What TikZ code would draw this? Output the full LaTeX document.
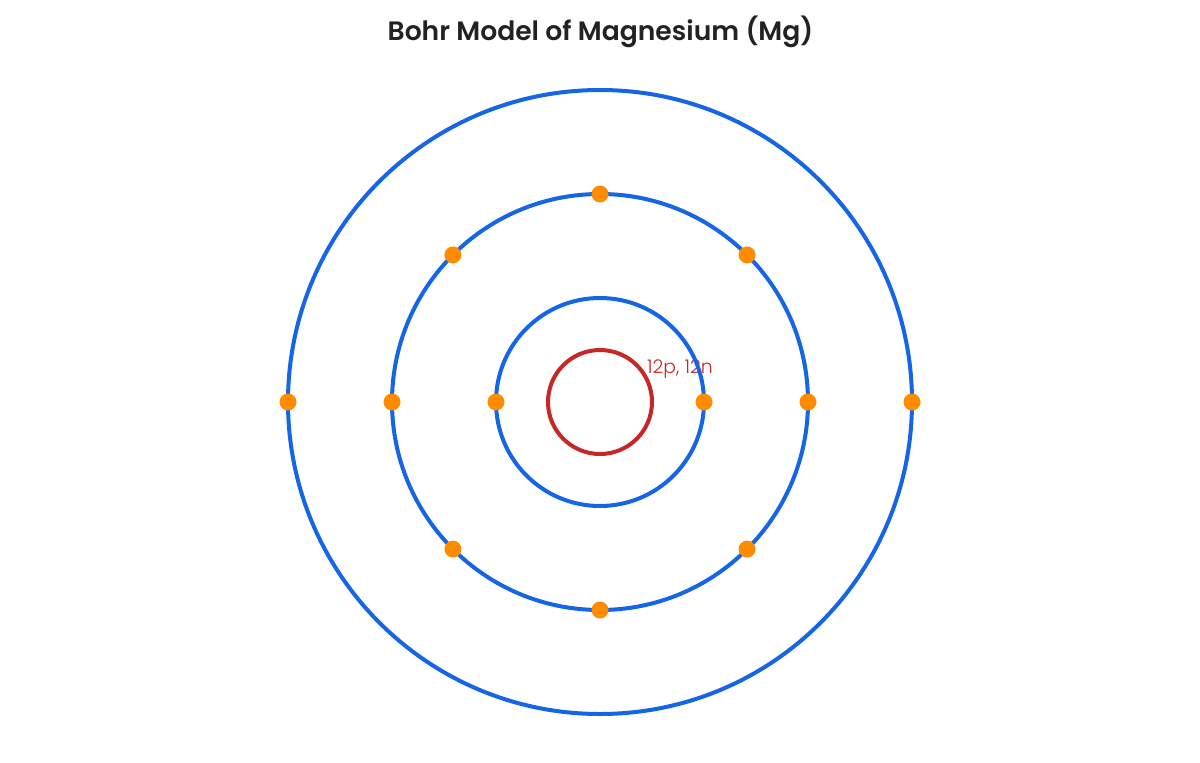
\documentclass[tikz,border=0pt]{standalone}
\usepackage{fontspec}
\setmainfont{Poppins}
\newfontfamily\titlefont{Poppins SemiBold}
\newfontfamily\labelfont{Poppins}[UprightFont={* Light}]
\usetikzlibrary{calc}
\begin{document}
\begin{tikzpicture}[x=1pt,y=-1pt,
  shell/.style={draw=shellblue,line width=4pt},
  nucleus/.style={draw=nucred,line width=4pt},
  electron/.style={circle,fill=elorange,inner sep=0pt,minimum size=17pt}]
\definecolor{shellblue}{HTML}{1565E6}
\definecolor{nucred}{HTML}{C62828}
\definecolor{elorange}{HTML}{FF8C00}
\definecolor{titlegray}{HTML}{222222}
\useasboundingbox (0,0) rectangle (1200,763);
\coordinate (c) at (600,402);
\node[anchor=center,text=titlegray,font=\fontsize{26.6}{30}\selectfont\titlefont] (title) at (600.5,32) {Bohr Model of Magnesium (Mg)};
\node[anchor=west,inner sep=0pt,text=nucred,font=\fontsize{18.8}{21}\selectfont\labelfont] (lab) at (647,369) {12p, 12n};
\draw[nucleus] (c) circle[radius=52];
\draw[shell] (c) circle[radius=104];
\draw[shell] (c) circle[radius=208];
\draw[shell] (c) circle[radius=312];
\foreach \a in {0,180} \node[electron] (ea\a) at ($(c)+(\a:104)$) {};
\foreach \a in {0,45,...,315} \node[electron] (eb\a) at ($(c)+(\a:208)$) {};
\foreach \a in {0,180} \node[electron] (ec\a) at ($(c)+(\a:312)$) {};
\end{tikzpicture}
\end{document}
